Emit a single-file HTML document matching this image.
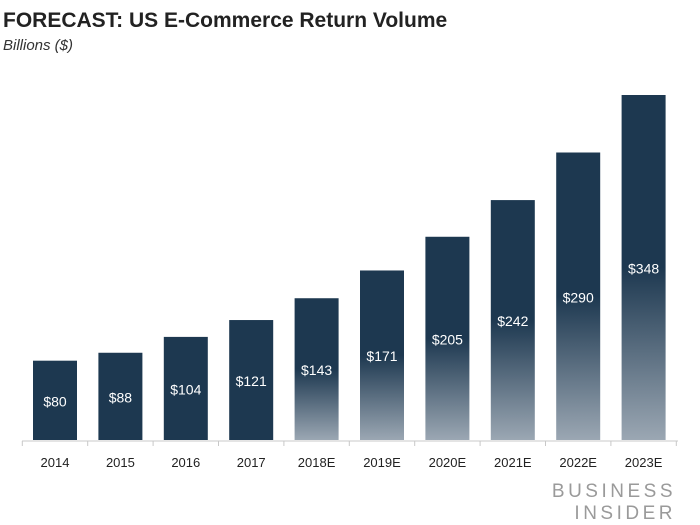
<!DOCTYPE html>
<html><head><meta charset="utf-8"><style>
body{margin:0;background:#fff;}
svg{display:block;font-family:"Liberation Sans",sans-serif;}
</style></head><body>
<svg width="700" height="525">
<defs>
<linearGradient id="fc" x1="0" y1="0" x2="0" y2="1">
<stop offset="0" stop-color="#1d3850"/>
<stop offset="0.5" stop-color="#1d3850"/>
<stop offset="1" stop-color="#9ba7b3"/>
</linearGradient>
</defs>
<text x="3" y="27" font-size="21" font-weight="bold" fill="#222">FORECAST: US E-Commerce Return Volume</text>
<text x="3" y="50" font-size="15" font-style="italic" fill="#333">Billions ($)</text>
<g id="bars"></g>
<line x1="22" y1="441" x2="678" y2="441" stroke="#c8c8c8" stroke-width="1"/>
<g id="ticks"></g>
<text x="676" y="497" font-size="19" fill="#9a9a9a" text-anchor="end" letter-spacing="3.5">BUSINESS</text>
<text x="676" y="519" font-size="19" fill="#9a9a9a" text-anchor="end" letter-spacing="3.5">INSIDER</text>
</svg>
<script>
const categories=["2014","2015","2016","2017","2018E","2019E","2020E","2021E","2022E","2023E"];
const values=[80,88,104,121,143,171,205,242,290,348];
const forecast=[false,false,false,false,true,true,true,true,true,true];
const ns="http://www.w3.org/2000/svg";
const base=440, scale=345/348, x0=33, step=65.4, bw=44;
const x=i=>x0+i*step, y=v=>base-v*scale;
const bars=document.getElementById('bars'), ticks=document.getElementById('ticks');
categories.forEach((c,i)=>{
  const r=document.createElementNS(ns,'rect');
  r.setAttribute('x',x(i));r.setAttribute('y',y(values[i]));
  r.setAttribute('width',bw);r.setAttribute('height',base-y(values[i]));
  r.setAttribute('fill',forecast[i]?'url(#fc)':'#1d3850');
  
  
  bars.appendChild(r);
  const t=document.createElementNS(ns,'text');
  t.setAttribute('x',x(i)+bw/2);t.setAttribute('y',(y(values[i])+base)/2+6);
  t.setAttribute('text-anchor','middle');t.setAttribute('font-size','14');t.setAttribute('fill','#fff');
  t.textContent='$'+values[i];
  
  
  bars.appendChild(t);
  const l=document.createElementNS(ns,'text');
  l.setAttribute('x',x(i)+bw/2);l.setAttribute('y',467);
  l.setAttribute('text-anchor','middle');l.setAttribute('font-size','13');l.setAttribute('fill','#222');
  l.textContent=c;
  
  
  ticks.appendChild(l);
});
for(let i=0;i<=categories.length;i++){
  const tx=x(i)-(step-bw)/2;
  const tk=document.createElementNS(ns,'line');
  tk.setAttribute('x1',tx);tk.setAttribute('x2',tx);tk.setAttribute('y1',441);tk.setAttribute('y2',446);
  tk.setAttribute('stroke','#c8c8c8');
  
  
  ticks.appendChild(tk);
}
</script>
</body></html>
